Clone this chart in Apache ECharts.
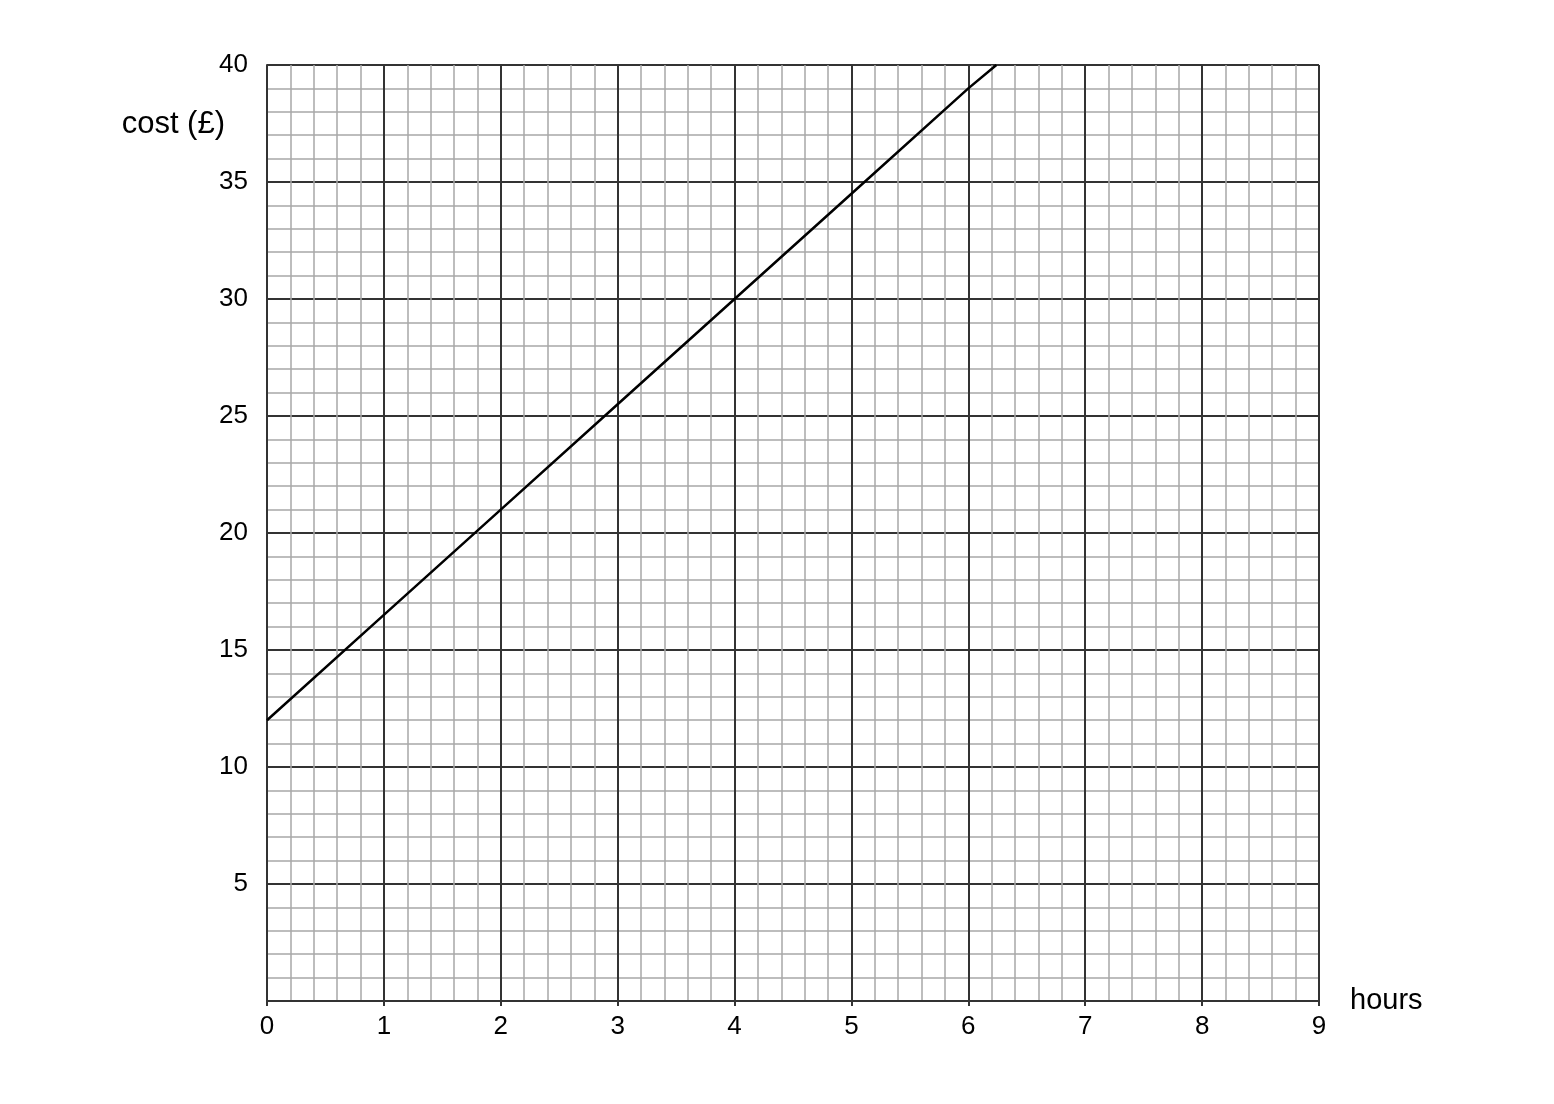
<!DOCTYPE html>
<html>
<head>
<meta charset="utf-8">
<script src="https://cdn.jsdelivr.net/npm/echarts@6/dist/echarts.min.js"></script>
<style>
html,body{margin:0;padding:0;background:#fff;}
#chart{width:1554px;height:1104px;}
</style>
</head>
<body>
<div id="chart"></div>
<script>
// Data
var hours = [0, 1, 2, 3, 4, 5, 6, 6.24];
var cost = [12, 16.5, 21, 25.5, 30, 34.5, 39, 40];
var xTicks = [0, 1, 2, 3, 4, 5, 6, 7, 8, 9];
var yTicks = [0, 5, 10, 15, 20, 25, 30, 35, 40];
var xName = 'hours';
var yName = 'cost (£)';

var chart = echarts.init(document.getElementById('chart'));
var FONT = '"Liberation Sans", Arial, sans-serif';
var major = {color: '#333333', width: 2};
var minor = {color: '#a8a8a8', width: 1.5};

chart.setOption({
  animation: false,
  backgroundColor: '#ffffff',
  grid: {left: 267, right: 235, top: 65, bottom: 103, containLabel: false},
  xAxis: {
    type: 'value',
    min: xTicks[0],
    max: xTicks[xTicks.length - 1],
    interval: 1,
    name: xName,
    nameLocation: 'end',
    nameGap: 31,
    nameTextStyle: {fontFamily: FONT, fontSize: 29, color: '#000', align: 'left', verticalAlign: 'middle'},
    axisLine: {show: true, lineStyle: major},
    axisTick: {show: true, length: 5, lineStyle: major},
    axisLabel: {fontFamily: FONT, fontSize: 26, color: '#000', margin: 13},
    splitLine: {show: true, lineStyle: major},
    minorTick: {show: false, splitNumber: 5},
    minorSplitLine: {show: true, lineStyle: minor}
  },
  yAxis: {
    type: 'value',
    min: yTicks[0],
    max: yTicks[yTicks.length - 1],
    interval: 5,
    name: yName,
    nameLocation: 'end',
    nameGap: -59,
    nameTextStyle: {fontFamily: FONT, fontSize: 31, color: '#000', align: 'right', verticalAlign: 'middle', padding: [0, 42, 0, 0]},
    axisLine: {show: true, lineStyle: major},
    axisTick: {show: false},
    axisLabel: {
      fontFamily: FONT, fontSize: 26, color: '#000', margin: 19,
      formatter: function (v) { return v === 0 ? '' : String(v); }
    },
    splitLine: {show: true, lineStyle: major},
    minorTick: {show: false, splitNumber: 5},
    minorSplitLine: {show: true, lineStyle: minor}
  },
  series: [{
    type: 'line',
    data: hours.map(function (h, i) { return [h, cost[i]]; }),
    showSymbol: false,
    symbol: 'none',
    lineStyle: {color: '#000', width: 2.5},
    z: 10
  }]
});
</script>
</body>
</html>
